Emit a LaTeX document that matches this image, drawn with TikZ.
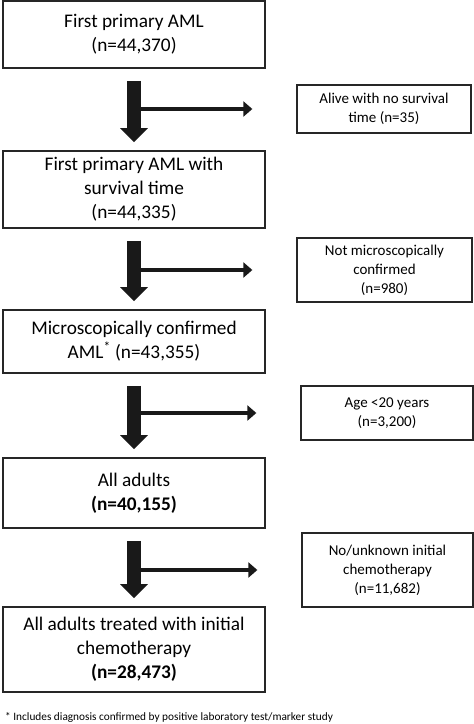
\documentclass[tikz,border=0pt]{standalone}
\usepackage{fontspec}
\setmainfont{Carlito}
\usetikzlibrary{arrows.meta}

\begin{document}
\begin{tikzpicture}[x=1pt,y=-1pt,
        mainbox/.style={draw=black!85,line width=1.6pt,align=center,inner sep=0pt,
            font=\fontsize{19.3}{24}\selectfont,minimum width=262pt},
        sidebox/.style={draw=black!85,line width=1.3pt,align=center,inner sep=0pt,
            font=\fontsize{15}{19}\selectfont},
        bigarrow/.style={black!90,line width=14pt,-{Triangle[width=27pt,length=14pt]},
            shorten <=12pt,shorten >=8pt},
        sidearrow/.style={black!90,line width=4pt,-{Triangle[width=15pt,length=9pt]},
            shorten >=44pt}]
        \useasboundingbox (0,0) rectangle (474,724);

        % main column
        \node[mainbox,minimum height=67pt] (b1) at (134,34.5) {First primary AML\\(n=44,370)};
        \node[mainbox,minimum height=77pt] (b2) at (134,189.5) {First primary AML with\\survival time\\(n=44,335)};
        \node[mainbox,minimum height=63pt] (b3) at (134,341.5) {Microscopically confirmed\\AML\textsuperscript{*} (n=43,355)};
        \node[mainbox,minimum height=70pt] (b4) at (134,493) {All adults\\\textbf{(n=40,155)}};
        \node[mainbox,minimum height=85pt] (b5) at (134,649.5) {All adults treated with initial\\chemotherapy\\\textbf{(n=28,473)}};

        % excluded
        \node[sidebox,minimum width=174pt,minimum height=48pt] (s1) at (384,109) {Alive with no survival\\time (n=35)};
        \node[sidebox,minimum width=175pt,minimum height=64pt] (s2) at (384.5,270) {Not microscopically\\confirmed\\(n=980)};
        \node[sidebox,minimum width=172pt,minimum height=54pt] (s3) at (387,413) {Age <20 years\\(n=3,200)};
        \node[sidebox,minimum width=171pt,minimum height=74pt] (s4) at (387.5,570) {No/unknown initial\\chemotherapy\\(n=11,682)};

        \draw[bigarrow] (b1.south) -- (b2.north);
        \draw[bigarrow] (b2.south) -- (b3.north);
        \draw[bigarrow] (b3.south) -- (b4.north);
        \draw[bigarrow] (b4.south) -- (b5.north);

        \draw[sidearrow] (s1.west -| b1.south) -- (s1.west);
        \draw[sidearrow] (s2.west -| b2.south) -- (s2.west);
        \draw[sidearrow] (s3.west -| b3.south) -- (s3.west);
        \draw[sidearrow] (s4.west -| b4.south) -- (s4.west);

        \node[anchor=west,inner sep=0pt,font=\fontsize{11.3}{13}\selectfont] (note) at (5,717)
            {* Includes diagnosis confirmed by positive laboratory test/marker study};
    \end{tikzpicture}
\end{document}
